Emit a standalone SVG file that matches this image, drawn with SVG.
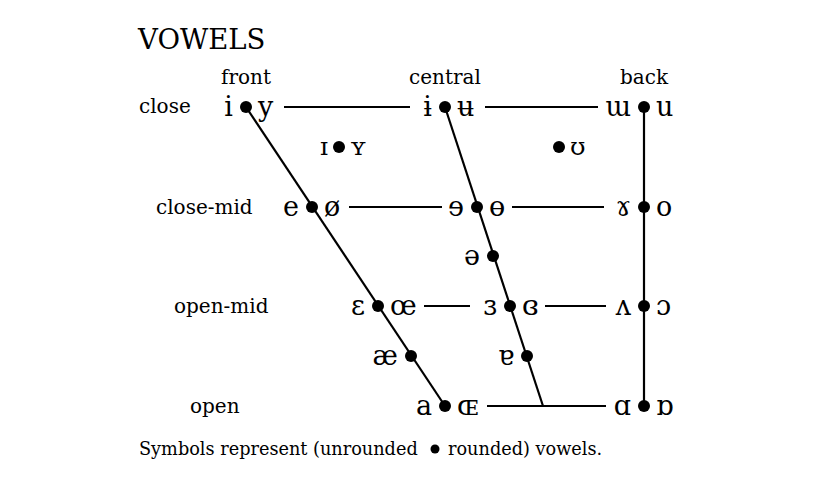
<svg xmlns="http://www.w3.org/2000/svg" width="820" height="480" viewBox="0 0 820 480">
<style>
text{font-family:"DejaVu Serif",serif;fill:#000}
.l{font-size:20px}
.v{font-size:27px}
.s{font-size:25px}
.r{text-anchor:end}
line{stroke:#000;stroke-width:2.2}
circle{fill:#000}
</style>
<rect width="820" height="480" fill="#fff"/>
<text x="138" y="49" font-size="27.5">VOWELS</text>
<g id="labels">
<text class="l" x="246" y="84" text-anchor="middle">front</text>
<text class="l" x="445" y="84" text-anchor="middle">central</text>
<text class="l" x="644" y="84" text-anchor="middle">back</text>
<text class="l" x="139" y="113">close</text>
<text class="l" x="156" y="214">close-mid</text>
<text class="l" x="174" y="313">open-mid</text>
<text class="l" x="190" y="413">open</text>
</g>
<g id="connectors">
<line x1="246" y1="107" x2="445" y2="406"/>
<line x1="445" y1="107" x2="543" y2="406"/>
<line x1="644" y1="107" x2="644" y2="406"/>
<line x1="284" y1="107" x2="410" y2="107"/>
<line x1="485" y1="107" x2="598" y2="107"/>
<line x1="349" y1="207" x2="442" y2="207"/>
<line x1="512" y1="207" x2="604" y2="207"/>
<line x1="424" y1="306" x2="470" y2="306"/>
<line x1="545" y1="306" x2="606" y2="306"/>
<line x1="487" y1="406" x2="606" y2="406"/>
</g>
<g id="n-close-front"><circle cx="246" cy="107" r="6"/><text class="v r" x="233" y="116">i</text><text class="v" x="258" y="116">y</text></g>
<g id="n-close-central"><circle cx="445" cy="107" r="6"/><text class="v r" x="432" y="116">ɨ</text><text class="v" x="457" y="116">ʉ</text></g>
<g id="n-close-back"><circle cx="644" cy="107" r="6"/><text class="v r" x="631" y="116">ɯ</text><text class="v" x="656" y="116">u</text></g>
<g id="n-nearclose-front"><circle cx="339" cy="147" r="6"/><text class="s r" x="328" y="155">ɪ</text><text class="s" x="350" y="155">ʏ</text></g>
<g id="n-nearclose-back"><circle cx="559" cy="147" r="6"/><text class="s" x="570" y="155">ʊ</text></g>
<g id="n-closemid-front"><circle cx="312" cy="207" r="6"/><text class="v r" x="299" y="216">e</text><text class="v" x="324" y="216">ø</text></g>
<g id="n-closemid-central"><circle cx="477" cy="207" r="6"/><text class="v r" x="464" y="216">ɘ</text><text class="v" x="489" y="216">ɵ</text></g>
<g id="n-closemid-back"><circle cx="644" cy="207" r="6"/><text class="v r" x="631" y="216">ɤ</text><text class="v" x="656" y="216">o</text></g>
<g id="n-mid-central"><circle cx="493" cy="256" r="6"/><text class="v r" x="480" y="265">ə</text></g>
<g id="n-openmid-front"><circle cx="378" cy="306" r="6"/><text class="v r" x="365" y="315">ɛ</text><text class="v" x="390" y="315">œ</text></g>
<g id="n-openmid-central"><circle cx="510" cy="306" r="6"/><text class="v r" x="497" y="315">ɜ</text><text class="v" x="522" y="315">ɞ</text></g>
<g id="n-openmid-back"><circle cx="644" cy="306" r="6"/><text class="v r" x="631" y="315">ʌ</text><text class="v" x="656" y="315">ɔ</text></g>
<g id="n-nearopen-front"><circle cx="411" cy="356" r="6"/><text class="v r" x="398" y="365">æ</text></g>
<g id="n-nearopen-central"><circle cx="527" cy="356" r="6"/><text class="v r" x="514" y="365">ɐ</text></g>
<g id="n-open-front"><circle cx="445" cy="406" r="6"/><text class="v r" x="432" y="415">a</text><text class="v" x="457" y="415">ɶ</text></g>
<g id="n-open-back"><circle cx="644" cy="406" r="6"/><text class="v r" x="631" y="415">ɑ</text><text class="v" x="656" y="415">ɒ</text></g>
<g id="legend"><text x="139" y="455" font-size="17.7">Symbols represent (unrounded</text><circle cx="435" cy="449" r="4.5"/><text x="448" y="455" font-size="17.7">rounded) vowels.</text></g>
</svg>
